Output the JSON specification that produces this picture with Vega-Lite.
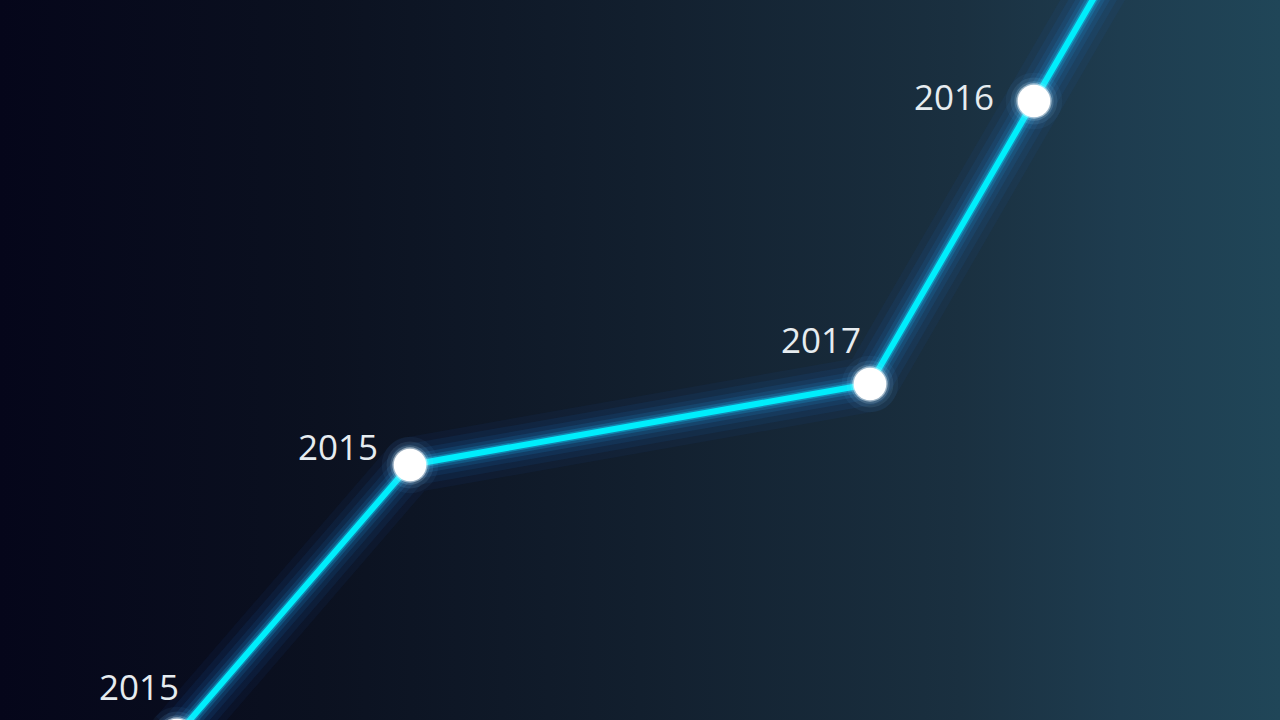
{
  "$schema": "https://vega.github.io/schema/vega-lite/v6.json",
  "width": 1280,
  "height": 720,
  "padding": 0,
  "autosize": {"type": "fit", "contains": "padding"},
  "background": "#05061a",
  "config": {"view": {"stroke": null}, "axis": {"disable": true}},
  "datasets": {
    "pts": [
      {"id": "a", "step": 177, "value": -15, "year": "2015", "shown": true},
      {"id": "b", "step": 410, "value": 255, "year": "2015", "shown": true},
      {"id": "c", "step": 870, "value": 336, "year": "2017", "shown": true},
      {"id": "d", "step": 1034, "value": 619, "year": "2016", "shown": true},
      {"id": "e", "step": 1110, "value": 750, "year": "", "shown": false}
    ]
  },
  "encoding": {
    "x": {"field": "step", "type": "quantitative", "scale": {"domain": [0, 1280], "nice": false, "zero": false}, "axis": null},
    "y": {"field": "value", "type": "quantitative", "scale": {"domain": [0, 720], "nice": false, "zero": false}, "axis": null}
  },
  "layer": [
    {
      "data": {"values": [{"x0": 0, "x1": 1280, "y0": 0, "y1": 720}]},
      "mark": {"type": "rect", "clip": true, "color": {"gradient": "linear", "x1": 0, "y1": 0, "x2": 1, "y2": 0, "stops": [
        {"offset": 0, "color": "#05061a"},
        {"offset": 0.25, "color": "#0b1120"},
        {"offset": 0.5, "color": "#121f2e"},
        {"offset": 0.75, "color": "#1a3040"},
        {"offset": 0.875, "color": "#1e3c4f"},
        {"offset": 1, "color": "#204658"}
      ]}},
      "encoding": {
        "x": {"field": "x0", "type": "quantitative"},
        "x2": {"field": "x1"},
        "y": {"field": "y0", "type": "quantitative"},
        "y2": {"field": "y1"}
      }
    },
    {"data": {"name": "pts"}, "mark": {"type": "line", "clip": true, "color": "#1e7cff", "strokeWidth": 56, "opacity": 0.05, "strokeJoin": "round"}, "encoding": {"order": {"field": "step"}}},
    {"data": {"name": "pts"}, "mark": {"type": "line", "clip": true, "color": "#1e8cff", "strokeWidth": 42, "opacity": 0.07, "strokeJoin": "round"}, "encoding": {"order": {"field": "step"}}},
    {"data": {"name": "pts"}, "mark": {"type": "line", "clip": true, "color": "#1e9cff", "strokeWidth": 30, "opacity": 0.09, "strokeJoin": "round"}, "encoding": {"order": {"field": "step"}}},
    {"data": {"name": "pts"}, "mark": {"type": "line", "clip": true, "color": "#20aaf8", "strokeWidth": 21, "opacity": 0.13, "strokeJoin": "round"}, "encoding": {"order": {"field": "step"}}},
    {"data": {"name": "pts"}, "mark": {"type": "line", "clip": true, "color": "#18c0f8", "strokeWidth": 14, "opacity": 0.2, "strokeJoin": "round"}, "encoding": {"order": {"field": "step"}}},
    {"data": {"name": "pts"}, "mark": {"type": "line", "clip": true, "color": "#10d8fa", "strokeWidth": 9, "opacity": 0.35, "strokeJoin": "round"}, "encoding": {"order": {"field": "step"}}},
    {"data": {"name": "pts"}, "mark": {"type": "line", "clip": true, "color": "#00eefc", "strokeWidth": 6, "strokeJoin": "round"}, "encoding": {"order": {"field": "step"}}},
    {"data": {"name": "pts"}, "transform": [{"filter": "datum.shown"}], "mark": {"type": "point", "clip": true, "shape": "circle", "filled": true, "color": "#5fc0ff", "size": 3200, "opacity": 0.06}},
    {"data": {"name": "pts"}, "transform": [{"filter": "datum.shown"}], "mark": {"type": "point", "clip": true, "shape": "circle", "filled": true, "color": "#8fd8ff", "size": 2200, "opacity": 0.1}},
    {"data": {"name": "pts"}, "transform": [{"filter": "datum.shown"}], "mark": {"type": "point", "clip": true, "shape": "circle", "filled": true, "color": "#c8f0ff", "size": 1550, "opacity": 0.18}},
    {"data": {"name": "pts"}, "transform": [{"filter": "datum.shown"}], "mark": {"type": "point", "clip": true, "shape": "circle", "filled": true, "color": "#f0faff", "size": 1250, "opacity": 0.5}},
    {"data": {"name": "pts"}, "transform": [{"filter": "datum.shown"}], "mark": {"type": "point", "clip": true, "shape": "circle", "filled": true, "color": "#ffffff", "size": 1060, "opacity": 1}},
    {"data": {"name": "pts"}, "transform": [{"filter": "datum.id == 'a'"}], "mark": {"type": "text", "clip": true, "font": "Open Sans", "fontSize": 35, "color": "#e6ecf0", "align": "right", "baseline": "alphabetic", "dx": 2, "dy": -35}, "encoding": {"text": {"field": "year"}}},
    {"data": {"name": "pts"}, "transform": [{"filter": "datum.id == 'b'"}], "mark": {"type": "text", "clip": true, "font": "Open Sans", "fontSize": 35, "color": "#e6ecf0", "align": "right", "baseline": "alphabetic", "dx": -32, "dy": -5}, "encoding": {"text": {"field": "year"}}},
    {"data": {"name": "pts"}, "transform": [{"filter": "datum.id == 'c'"}], "mark": {"type": "text", "clip": true, "font": "Open Sans", "fontSize": 35, "color": "#e6ecf0", "align": "right", "baseline": "alphabetic", "dx": -9, "dy": -31}, "encoding": {"text": {"field": "year"}}},
    {"data": {"name": "pts"}, "transform": [{"filter": "datum.id == 'd'"}], "mark": {"type": "text", "clip": true, "font": "Open Sans", "fontSize": 35, "color": "#e6ecf0", "align": "right", "baseline": "alphabetic", "dx": -40, "dy": 9}, "encoding": {"text": {"field": "year"}}}
  ]
}
